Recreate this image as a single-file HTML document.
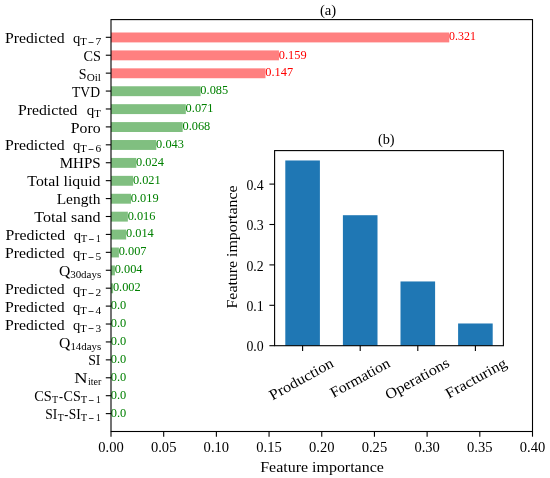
<!DOCTYPE html>
<html><head><meta charset="utf-8"><title>Feature importance</title>
<style>html,body{margin:0;padding:0;background:#fff}body{width:550px;height:478px;overflow:hidden}</style>
</head><body>
<svg width="550" height="478" viewBox="0 0 550 478" style="display:block" font-family='"Liberation Serif", serif' fill="#000">
<rect width="550" height="478" fill="#fff"/>
<g>
<rect x="111.0" y="32.50" width="338.25" height="9.9" fill="#ff8080"/>
<rect x="111.0" y="50.42" width="167.97" height="9.9" fill="#ff8080"/>
<rect x="111.0" y="68.34" width="154.48" height="9.9" fill="#ff8080"/>
<rect x="111.0" y="86.26" width="89.57" height="9.9" fill="#80bf80"/>
<rect x="111.0" y="104.18" width="74.82" height="9.9" fill="#80bf80"/>
<rect x="111.0" y="122.10" width="71.66" height="9.9" fill="#80bf80"/>
<rect x="111.0" y="140.02" width="45.31" height="9.9" fill="#80bf80"/>
<rect x="111.0" y="157.94" width="25.29" height="9.9" fill="#80bf80"/>
<rect x="111.0" y="175.86" width="22.13" height="9.9" fill="#80bf80"/>
<rect x="111.0" y="193.78" width="20.02" height="9.9" fill="#80bf80"/>
<rect x="111.0" y="211.70" width="16.86" height="9.9" fill="#80bf80"/>
<rect x="111.0" y="229.62" width="15.17" height="9.9" fill="#80bf80"/>
<rect x="111.0" y="247.54" width="7.90" height="9.9" fill="#80bf80"/>
<rect x="111.0" y="265.46" width="3.90" height="9.9" fill="#80bf80"/>
<rect x="111.0" y="283.38" width="2.11" height="9.9" fill="#80bf80"/>
</g>
<g>
<text x="449.05" y="40.10" font-size="13.5" textLength="26.80" lengthAdjust="spacingAndGlyphs" fill="#f00">0.321</text>
<text x="278.77" y="58.52" font-size="13.5" textLength="27.80" lengthAdjust="spacingAndGlyphs" fill="#f00">0.159</text>
<text x="265.28" y="76.44" font-size="13.5" textLength="27.80" lengthAdjust="spacingAndGlyphs" fill="#f00">0.147</text>
<text x="200.37" y="94.06" font-size="13.5" textLength="27.80" lengthAdjust="spacingAndGlyphs" fill="#008000">0.085</text>
<text x="185.62" y="111.98" font-size="13.5" textLength="27.80" lengthAdjust="spacingAndGlyphs" fill="#008000">0.071</text>
<text x="182.46" y="129.90" font-size="13.5" textLength="27.80" lengthAdjust="spacingAndGlyphs" fill="#008000">0.068</text>
<text x="156.11" y="147.82" font-size="13.5" textLength="27.80" lengthAdjust="spacingAndGlyphs" fill="#008000">0.043</text>
<text x="136.09" y="165.74" font-size="13.5" textLength="27.80" lengthAdjust="spacingAndGlyphs" fill="#008000">0.024</text>
<text x="132.93" y="183.66" font-size="13.5" textLength="27.80" lengthAdjust="spacingAndGlyphs" fill="#008000">0.021</text>
<text x="130.82" y="201.58" font-size="13.5" textLength="27.80" lengthAdjust="spacingAndGlyphs" fill="#008000">0.019</text>
<text x="127.66" y="219.50" font-size="13.5" textLength="27.80" lengthAdjust="spacingAndGlyphs" fill="#008000">0.016</text>
<text x="125.97" y="237.42" font-size="13.5" textLength="27.80" lengthAdjust="spacingAndGlyphs" fill="#008000">0.014</text>
<text x="118.70" y="255.34" font-size="13.5" textLength="27.80" lengthAdjust="spacingAndGlyphs" fill="#008000">0.007</text>
<text x="114.70" y="273.26" font-size="13.5" textLength="27.80" lengthAdjust="spacingAndGlyphs" fill="#008000">0.004</text>
<text x="112.91" y="291.18" font-size="13.5" textLength="27.80" lengthAdjust="spacingAndGlyphs" fill="#008000">0.002</text>
<text x="110.80" y="309.10" font-size="13.5" textLength="15.50" lengthAdjust="spacingAndGlyphs" fill="#008000">0.0</text>
<text x="110.80" y="327.02" font-size="13.5" textLength="15.50" lengthAdjust="spacingAndGlyphs" fill="#008000">0.0</text>
<text x="110.80" y="344.94" font-size="13.5" textLength="15.50" lengthAdjust="spacingAndGlyphs" fill="#008000">0.0</text>
<text x="110.80" y="362.86" font-size="13.5" textLength="15.50" lengthAdjust="spacingAndGlyphs" fill="#008000">0.0</text>
<text x="110.80" y="380.78" font-size="13.5" textLength="15.50" lengthAdjust="spacingAndGlyphs" fill="#008000">0.0</text>
<text x="110.80" y="398.70" font-size="13.5" textLength="15.50" lengthAdjust="spacingAndGlyphs" fill="#008000">0.0</text>
<text x="110.80" y="416.62" font-size="13.5" textLength="15.50" lengthAdjust="spacingAndGlyphs" fill="#008000">0.0</text>
</g>
<rect x="111.0" y="19.6" width="421.5" height="411.9" fill="none" stroke="#000" stroke-width="1.1"/>
<g>
<line x1="105.8" x2="111.0" y1="37.30" y2="37.30" stroke="#000" stroke-width="1.1"/>
<text><tspan x="4.95" y="42.90" font-size="14.8" textLength="59.60" lengthAdjust="spacingAndGlyphs">Predicted</tspan> <tspan x="73.05" y="42.90" font-size="14.8" textLength="7.30" lengthAdjust="spacingAndGlyphs">q</tspan><tspan x="80.25" y="44.90" font-size="10.3" textLength="6.50" lengthAdjust="spacingAndGlyphs">T</tspan><tspan x="88.45" y="45.70" font-size="10.3" textLength="5.50" lengthAdjust="spacingAndGlyphs" stroke="#000" stroke-width="0.25">−</tspan><tspan x="95.45" y="44.90" font-size="10.3" textLength="5.70" lengthAdjust="spacingAndGlyphs">7</tspan></text>
<line x1="105.8" x2="111.0" y1="55.22" y2="55.22" stroke="#000" stroke-width="1.1"/>
<text><tspan x="83.55" y="60.82" font-size="14.8" textLength="17.40" lengthAdjust="spacingAndGlyphs">CS</tspan></text>
<line x1="105.8" x2="111.0" y1="73.14" y2="73.14" stroke="#000" stroke-width="1.1"/>
<text><tspan x="78.75" y="78.74" font-size="14.8" textLength="7.80" lengthAdjust="spacingAndGlyphs">S</tspan><tspan x="86.65" y="80.74" font-size="10.3" textLength="14.30" lengthAdjust="spacingAndGlyphs">Oil</tspan></text>
<line x1="105.8" x2="111.0" y1="91.06" y2="91.06" stroke="#000" stroke-width="1.1"/>
<text><tspan x="72.05" y="96.66" font-size="14.8" textLength="28.00" lengthAdjust="spacingAndGlyphs">TVD</tspan></text>
<line x1="105.8" x2="111.0" y1="108.98" y2="108.98" stroke="#000" stroke-width="1.1"/>
<text><tspan x="17.95" y="114.58" font-size="14.8" textLength="59.50" lengthAdjust="spacingAndGlyphs">Predicted</tspan> <tspan x="86.65" y="114.58" font-size="14.8" textLength="7.50" lengthAdjust="spacingAndGlyphs">q</tspan><tspan x="94.25" y="116.58" font-size="10.3" textLength="6.60" lengthAdjust="spacingAndGlyphs">T</tspan></text>
<line x1="105.8" x2="111.0" y1="126.90" y2="126.90" stroke="#000" stroke-width="1.1"/>
<text><tspan x="70.85" y="132.50" font-size="14.8" textLength="29.80" lengthAdjust="spacingAndGlyphs">Poro</tspan></text>
<line x1="105.8" x2="111.0" y1="144.82" y2="144.82" stroke="#000" stroke-width="1.1"/>
<text><tspan x="4.95" y="150.42" font-size="14.8" textLength="59.60" lengthAdjust="spacingAndGlyphs">Predicted</tspan> <tspan x="73.05" y="150.42" font-size="14.8" textLength="7.30" lengthAdjust="spacingAndGlyphs">q</tspan><tspan x="80.25" y="152.42" font-size="10.3" textLength="6.50" lengthAdjust="spacingAndGlyphs">T</tspan><tspan x="88.45" y="153.22" font-size="10.3" textLength="5.50" lengthAdjust="spacingAndGlyphs" stroke="#000" stroke-width="0.25">−</tspan><tspan x="95.45" y="152.42" font-size="10.3" textLength="5.70" lengthAdjust="spacingAndGlyphs">6</tspan></text>
<line x1="105.8" x2="111.0" y1="162.74" y2="162.74" stroke="#000" stroke-width="1.1"/>
<text><tspan x="59.75" y="168.34" font-size="14.8" textLength="40.90" lengthAdjust="spacingAndGlyphs">MHPS</tspan></text>
<line x1="105.8" x2="111.0" y1="180.66" y2="180.66" stroke="#000" stroke-width="1.1"/>
<text><tspan x="27.35" y="186.26" font-size="14.8" textLength="73.10" lengthAdjust="spacingAndGlyphs">Total liquid</tspan></text>
<line x1="105.8" x2="111.0" y1="198.58" y2="198.58" stroke="#000" stroke-width="1.1"/>
<text><tspan x="56.65" y="204.18" font-size="14.8" textLength="43.80" lengthAdjust="spacingAndGlyphs">Length</tspan></text>
<line x1="105.8" x2="111.0" y1="216.50" y2="216.50" stroke="#000" stroke-width="1.1"/>
<text><tspan x="34.25" y="222.10" font-size="14.8" textLength="66.20" lengthAdjust="spacingAndGlyphs">Total sand</tspan></text>
<line x1="105.8" x2="111.0" y1="234.42" y2="234.42" stroke="#000" stroke-width="1.1"/>
<text><tspan x="5.55" y="240.02" font-size="14.8" textLength="59.60" lengthAdjust="spacingAndGlyphs">Predicted</tspan> <tspan x="73.65" y="240.02" font-size="14.8" textLength="7.30" lengthAdjust="spacingAndGlyphs">q</tspan><tspan x="80.85" y="242.02" font-size="10.3" textLength="6.50" lengthAdjust="spacingAndGlyphs">T</tspan><tspan x="88.75" y="242.82" font-size="10.3" textLength="5.50" lengthAdjust="spacingAndGlyphs" stroke="#000" stroke-width="0.25">−</tspan><tspan x="96.05" y="242.02" font-size="10.3" textLength="4.80" lengthAdjust="spacingAndGlyphs">1</tspan></text>
<line x1="105.8" x2="111.0" y1="252.34" y2="252.34" stroke="#000" stroke-width="1.1"/>
<text><tspan x="4.95" y="257.94" font-size="14.8" textLength="59.60" lengthAdjust="spacingAndGlyphs">Predicted</tspan> <tspan x="73.05" y="257.94" font-size="14.8" textLength="7.30" lengthAdjust="spacingAndGlyphs">q</tspan><tspan x="80.25" y="259.94" font-size="10.3" textLength="6.50" lengthAdjust="spacingAndGlyphs">T</tspan><tspan x="88.45" y="260.74" font-size="10.3" textLength="5.50" lengthAdjust="spacingAndGlyphs" stroke="#000" stroke-width="0.25">−</tspan><tspan x="95.45" y="259.94" font-size="10.3" textLength="5.70" lengthAdjust="spacingAndGlyphs">5</tspan></text>
<line x1="105.8" x2="111.0" y1="270.26" y2="270.26" stroke="#000" stroke-width="1.1"/>
<text><tspan x="58.95" y="275.86" font-size="14.8" textLength="11.30" lengthAdjust="spacingAndGlyphs">Q</tspan><tspan x="70.15" y="277.86" font-size="10.3" textLength="31.10" lengthAdjust="spacingAndGlyphs">30days</tspan></text>
<line x1="105.8" x2="111.0" y1="288.18" y2="288.18" stroke="#000" stroke-width="1.1"/>
<text><tspan x="4.95" y="293.78" font-size="14.8" textLength="59.60" lengthAdjust="spacingAndGlyphs">Predicted</tspan> <tspan x="73.05" y="293.78" font-size="14.8" textLength="7.30" lengthAdjust="spacingAndGlyphs">q</tspan><tspan x="80.25" y="295.78" font-size="10.3" textLength="6.50" lengthAdjust="spacingAndGlyphs">T</tspan><tspan x="88.45" y="296.58" font-size="10.3" textLength="5.50" lengthAdjust="spacingAndGlyphs" stroke="#000" stroke-width="0.25">−</tspan><tspan x="95.45" y="295.78" font-size="10.3" textLength="5.70" lengthAdjust="spacingAndGlyphs">2</tspan></text>
<line x1="105.8" x2="111.0" y1="306.10" y2="306.10" stroke="#000" stroke-width="1.1"/>
<text><tspan x="4.95" y="311.70" font-size="14.8" textLength="59.60" lengthAdjust="spacingAndGlyphs">Predicted</tspan> <tspan x="73.05" y="311.70" font-size="14.8" textLength="7.30" lengthAdjust="spacingAndGlyphs">q</tspan><tspan x="80.25" y="313.70" font-size="10.3" textLength="6.50" lengthAdjust="spacingAndGlyphs">T</tspan><tspan x="88.45" y="314.50" font-size="10.3" textLength="5.50" lengthAdjust="spacingAndGlyphs" stroke="#000" stroke-width="0.25">−</tspan><tspan x="95.45" y="313.70" font-size="10.3" textLength="5.70" lengthAdjust="spacingAndGlyphs">4</tspan></text>
<line x1="105.8" x2="111.0" y1="324.02" y2="324.02" stroke="#000" stroke-width="1.1"/>
<text><tspan x="4.95" y="329.62" font-size="14.8" textLength="59.60" lengthAdjust="spacingAndGlyphs">Predicted</tspan> <tspan x="73.05" y="329.62" font-size="14.8" textLength="7.30" lengthAdjust="spacingAndGlyphs">q</tspan><tspan x="80.25" y="331.62" font-size="10.3" textLength="6.50" lengthAdjust="spacingAndGlyphs">T</tspan><tspan x="88.45" y="332.42" font-size="10.3" textLength="5.50" lengthAdjust="spacingAndGlyphs" stroke="#000" stroke-width="0.25">−</tspan><tspan x="95.45" y="331.62" font-size="10.3" textLength="5.70" lengthAdjust="spacingAndGlyphs">3</tspan></text>
<line x1="105.8" x2="111.0" y1="341.94" y2="341.94" stroke="#000" stroke-width="1.1"/>
<text><tspan x="58.95" y="347.54" font-size="14.8" textLength="11.30" lengthAdjust="spacingAndGlyphs">Q</tspan><tspan x="70.45" y="349.54" font-size="10.3" textLength="30.80" lengthAdjust="spacingAndGlyphs">14days</tspan></text>
<line x1="105.8" x2="111.0" y1="359.86" y2="359.86" stroke="#000" stroke-width="1.1"/>
<text><tspan x="88.15" y="365.46" font-size="14.8" textLength="12.30" lengthAdjust="spacingAndGlyphs">SI</tspan></text>
<line x1="105.8" x2="111.0" y1="377.78" y2="377.78" stroke="#000" stroke-width="1.1"/>
<text><tspan x="74.35" y="383.38" font-size="14.8" textLength="13.30" lengthAdjust="spacingAndGlyphs">N</tspan><tspan x="87.95" y="385.38" font-size="10.3" textLength="13.30" lengthAdjust="spacingAndGlyphs">iter</tspan></text>
<line x1="105.8" x2="111.0" y1="395.70" y2="395.70" stroke="#000" stroke-width="1.1"/>
<text><tspan x="34.25" y="401.30" font-size="14.8" textLength="17.60" lengthAdjust="spacingAndGlyphs">CS</tspan><tspan x="52.05" y="403.30" font-size="10.3" textLength="6.10" lengthAdjust="spacingAndGlyphs">T</tspan><tspan x="58.95" y="401.30" font-size="14.8" textLength="4.00" lengthAdjust="spacingAndGlyphs">-</tspan><tspan x="63.55" y="401.30" font-size="14.8" textLength="17.20" lengthAdjust="spacingAndGlyphs">CS</tspan><tspan x="80.85" y="403.30" font-size="10.3" textLength="6.40" lengthAdjust="spacingAndGlyphs">T</tspan><tspan x="88.75" y="404.10" font-size="10.3" textLength="5.30" lengthAdjust="spacingAndGlyphs" stroke="#000" stroke-width="0.25">−</tspan><tspan x="95.95" y="403.30" font-size="10.3" textLength="4.70" lengthAdjust="spacingAndGlyphs">1</tspan></text>
<line x1="105.8" x2="111.0" y1="413.62" y2="413.62" stroke="#000" stroke-width="1.1"/>
<text><tspan x="45.35" y="419.22" font-size="14.8" textLength="12.00" lengthAdjust="spacingAndGlyphs">SI</tspan><tspan x="57.65" y="421.22" font-size="10.3" textLength="6.00" lengthAdjust="spacingAndGlyphs">T</tspan><tspan x="64.15" y="419.22" font-size="14.8" textLength="4.10" lengthAdjust="spacingAndGlyphs">-</tspan><tspan x="68.75" y="419.22" font-size="14.8" textLength="12.00" lengthAdjust="spacingAndGlyphs">SI</tspan><tspan x="80.85" y="421.22" font-size="10.3" textLength="6.40" lengthAdjust="spacingAndGlyphs">T</tspan><tspan x="88.75" y="422.02" font-size="10.3" textLength="5.30" lengthAdjust="spacingAndGlyphs" stroke="#000" stroke-width="0.25">−</tspan><tspan x="95.95" y="421.22" font-size="10.3" textLength="4.70" lengthAdjust="spacingAndGlyphs">1</tspan></text>
</g>
<g>
<line x1="111.00" x2="111.00" y1="431.5" y2="436.7" stroke="#000" stroke-width="1.1"/>
<text x="98.25" y="452.30" font-size="14.8" textLength="25.50" lengthAdjust="spacingAndGlyphs">0.00</text>
<line x1="163.69" x2="163.69" y1="431.5" y2="436.7" stroke="#000" stroke-width="1.1"/>
<text x="150.94" y="452.30" font-size="14.8" textLength="25.50" lengthAdjust="spacingAndGlyphs">0.05</text>
<line x1="216.38" x2="216.38" y1="431.5" y2="436.7" stroke="#000" stroke-width="1.1"/>
<text x="203.62" y="452.30" font-size="14.8" textLength="25.50" lengthAdjust="spacingAndGlyphs">0.10</text>
<line x1="269.06" x2="269.06" y1="431.5" y2="436.7" stroke="#000" stroke-width="1.1"/>
<text x="256.31" y="452.30" font-size="14.8" textLength="25.50" lengthAdjust="spacingAndGlyphs">0.15</text>
<line x1="321.75" x2="321.75" y1="431.5" y2="436.7" stroke="#000" stroke-width="1.1"/>
<text x="309.00" y="452.30" font-size="14.8" textLength="25.50" lengthAdjust="spacingAndGlyphs">0.20</text>
<line x1="374.44" x2="374.44" y1="431.5" y2="436.7" stroke="#000" stroke-width="1.1"/>
<text x="361.69" y="452.30" font-size="14.8" textLength="25.50" lengthAdjust="spacingAndGlyphs">0.25</text>
<line x1="427.12" x2="427.12" y1="431.5" y2="436.7" stroke="#000" stroke-width="1.1"/>
<text x="414.38" y="452.30" font-size="14.8" textLength="25.50" lengthAdjust="spacingAndGlyphs">0.30</text>
<line x1="479.81" x2="479.81" y1="431.5" y2="436.7" stroke="#000" stroke-width="1.1"/>
<text x="467.06" y="452.30" font-size="14.8" textLength="25.50" lengthAdjust="spacingAndGlyphs">0.35</text>
<line x1="532.50" x2="532.50" y1="431.5" y2="436.7" stroke="#000" stroke-width="1.1"/>
<text x="519.75" y="452.30" font-size="14.8" textLength="25.50" lengthAdjust="spacingAndGlyphs">0.40</text>
</g>
<text x="260.25" y="472.30" font-size="14.8" textLength="123.60" lengthAdjust="spacingAndGlyphs">Feature importance</text>
<text x="319.95" y="15.40" font-size="14.8" textLength="16.30" lengthAdjust="spacingAndGlyphs">(a)</text>
<rect x="274.6" y="150.6" width="228.79999999999995" height="195.1" fill="#fff"/>
<rect x="285.30" y="160.47" width="34.6" height="185.23" fill="#1f77b4"/>
<rect x="342.90" y="215.21" width="34.6" height="130.49" fill="#1f77b4"/>
<rect x="400.50" y="281.46" width="34.6" height="64.24" fill="#1f77b4"/>
<rect x="458.10" y="323.48" width="34.6" height="22.22" fill="#1f77b4"/>
<rect x="274.6" y="150.6" width="228.79999999999995" height="195.1" fill="none" stroke="#000" stroke-width="1.1"/>
<line x1="269.40000000000003" x2="274.6" y1="345.70" y2="345.70" stroke="#000" stroke-width="1.1"/>
<text x="246.45" y="351.30" font-size="14.8" textLength="17.30" lengthAdjust="spacingAndGlyphs">0.0</text>
<line x1="269.40000000000003" x2="274.6" y1="305.30" y2="305.30" stroke="#000" stroke-width="1.1"/>
<text x="246.45" y="310.90" font-size="14.8" textLength="17.30" lengthAdjust="spacingAndGlyphs">0.1</text>
<line x1="269.40000000000003" x2="274.6" y1="264.90" y2="264.90" stroke="#000" stroke-width="1.1"/>
<text x="246.45" y="270.50" font-size="14.8" textLength="17.30" lengthAdjust="spacingAndGlyphs">0.2</text>
<line x1="269.40000000000003" x2="274.6" y1="224.50" y2="224.50" stroke="#000" stroke-width="1.1"/>
<text x="246.45" y="230.10" font-size="14.8" textLength="17.30" lengthAdjust="spacingAndGlyphs">0.3</text>
<line x1="269.40000000000003" x2="274.6" y1="184.10" y2="184.10" stroke="#000" stroke-width="1.1"/>
<text x="246.45" y="189.70" font-size="14.8" textLength="17.30" lengthAdjust="spacingAndGlyphs">0.4</text>
<line x1="302.60" x2="302.60" y1="345.7" y2="350.9" stroke="#000" stroke-width="1.1"/>
<text transform="translate(272.60,400.40) rotate(-29)" font-size="14.8" textLength="71.0" lengthAdjust="spacingAndGlyphs">Production</text>
<line x1="360.20" x2="360.20" y1="345.7" y2="350.9" stroke="#000" stroke-width="1.1"/>
<text transform="translate(333.40,398.10) rotate(-29)" font-size="14.8" textLength="66" lengthAdjust="spacingAndGlyphs">Formation</text>
<line x1="417.80" x2="417.80" y1="345.7" y2="350.9" stroke="#000" stroke-width="1.1"/>
<text transform="translate(388.50,400.10) rotate(-29)" font-size="14.8" textLength="71" lengthAdjust="spacingAndGlyphs">Operations</text>
<line x1="475.40" x2="475.40" y1="345.7" y2="350.9" stroke="#000" stroke-width="1.1"/>
<text transform="translate(448.80,398.70) rotate(-29)" font-size="14.8" textLength="67.5" lengthAdjust="spacingAndGlyphs">Fracturing</text>
<text transform="translate(237.2,247) rotate(-90)" font-size="14.8" text-anchor="middle" textLength="123" lengthAdjust="spacingAndGlyphs">Feature importance</text>
<text x="377.95" y="144.30" font-size="14.8" textLength="16.70" lengthAdjust="spacingAndGlyphs">(b)</text>
</svg>
</body></html>
